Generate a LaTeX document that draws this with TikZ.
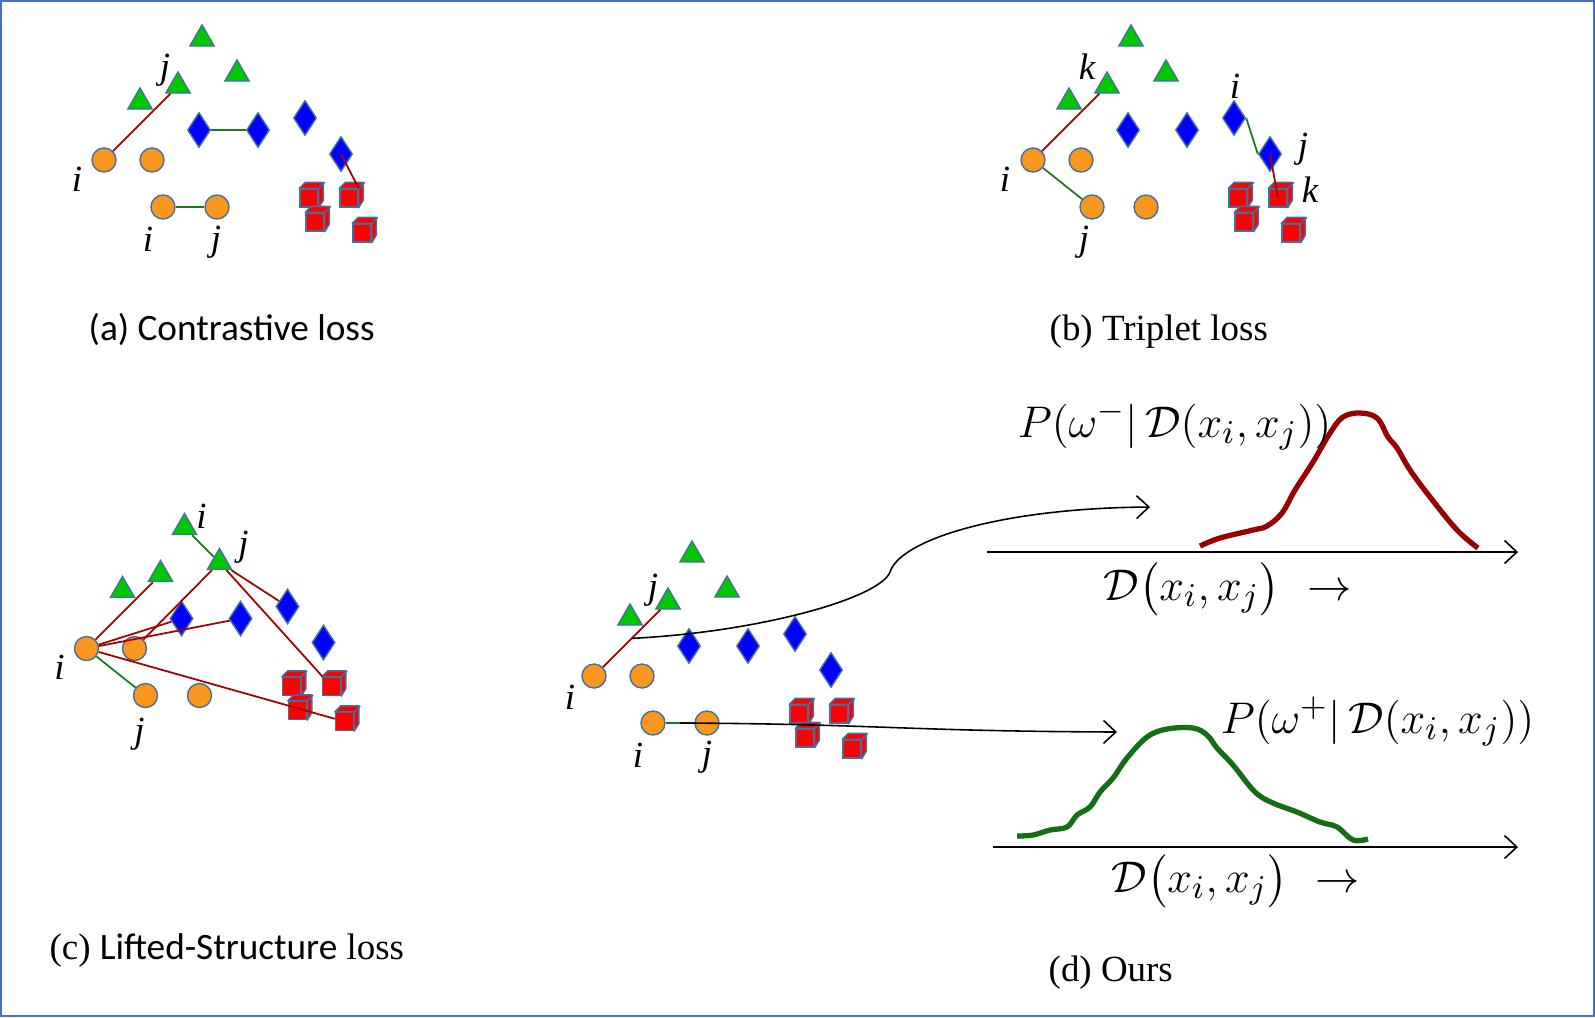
\documentclass[tikz,border=0pt]{standalone}
\usepackage{amsmath}
\usepackage{fontspec}
\usetikzlibrary{shapes.geometric, arrows.meta}
\newfontfamily\capsans{Carlito}
\newfontfamily\capserif{Liberation Serif}

\definecolor{olineblue}{RGB}{65,113,156}
\definecolor{trigreen}{RGB}{0,200,0}
\definecolor{dotorange}{RGB}{248,150,30}
\definecolor{negred}{RGB}{165,0,0}
\definecolor{posgreen}{RGB}{30,120,30}
\definecolor{curvered}{RGB}{153,0,0}
\definecolor{curvegreen}{RGB}{20,110,20}
\definecolor{frameblue}{RGB}{68,114,196}

\newcommand{\cubeat}[2]{%
  \node[cubefront] (#1) at (#2) {};
  \filldraw[cubeside] (#1.north west) -- ++(6,-6) -- ++(18,0) -- ++(0,18)
    -- (#1.south east) -- (#1.north east) -- cycle;
  \draw[cubeside] (#1.north east) -- ++(6,-6);
}

\newcommand{\cluster}{%
  \node[tri] (t1) at (202,39) {};
  \node[tri] (t2) at (237,74) {};
  \node[tri] (t3) at (178,86) {};
  \node[tri] (t4) at (140,102) {};
  \node[dia] (d1) at (199,130) {};
  \node[dia] (d2) at (258,130) {};
  \node[dia] (d3) at (305,118) {};
  \node[dia] (d4) at (341,154) {};
  \node[dot] (c1) at (104,160) {};
  \node[dot] (c2) at (152,160) {};
  \node[dot] (c3) at (163,207) {};
  \node[dot] (c4) at (217,207) {};
  \cubeat{q1}{309,198}
  \cubeat{q2}{349,198}
  \cubeat{q3}{315,222}
  \cubeat{q4}{362,233}
}

\begin{document}
\begin{tikzpicture}[
  x=0.01cm, y=-0.01cm,
  tri/.style={regular polygon, regular polygon sides=3, draw=olineblue, fill=trigreen, minimum size=0.28cm, inner sep=0pt},
  dia/.style={diamond, draw=olineblue, fill=blue, minimum width=0.23cm, minimum height=0.35cm, inner sep=0pt},
  dot/.style={circle, draw=olineblue, fill=dotorange, minimum size=0.24cm, inner sep=0pt},
  cubefront/.style={rectangle, draw=olineblue, fill=red, minimum size=0.18cm, inner sep=0pt},
  cubeside/.style={draw=olineblue, fill=red, line join=round},
  negline/.style={draw=negred, line width=0.5pt},
  posline/.style={draw=posgreen, line width=0.5pt},
  lbl/.style={font=\capserif\itshape\fontsize{10.5}{12}\selectfont, inner sep=0pt},
  sanscap/.style={font=\capsans\fontsize{10.6}{13}\selectfont, inner sep=0pt, anchor=base west},
  serifcap/.style={font=\capserif\fontsize{10.5}{12.5}\selectfont, inner sep=0pt, anchor=base west},
  formula/.style={font=\fontsize{13}{15.6}\selectfont, inner sep=0pt, anchor=base west, scale=1.05},
  link/.style={draw=black, line width=0.45pt, -{Straight Barb[length=3.5pt, width=6.5pt]}},
  axis/.style={draw=black, line width=0.45pt, -{Straight Barb[length=3.5pt, width=6.5pt]}},
  negcurve/.style={draw=curvered, line width=1.5pt},
  poscurve/.style={draw=curvegreen, line width=1.5pt}
]
  \fill[white] (0,0) rectangle (1595,1017);
  \useasboundingbox (0,0) rectangle (1595,1017);
  \draw[frameblue, line width=0.7pt] (1,1) rectangle (1594,1016);

  \begin{scope}[name prefix=a-]
    \cluster
    \draw[negline] (c1) -- (t3);
    \draw[posline] (d1) -- (d2);
    \draw[negline] (d4.center) -- (q2.north east);
    \draw[posline] (c3) -- (c4);
    \node[lbl] (lj) at (165,70) {j};
    \node[lbl] (li) at (77,179) {i};
    \node[lbl] (li2) at (148,239) {i};
    \node[lbl] (lj2) at (216,242) {j};
  \end{scope}

  \begin{scope}[shift={(929,0)}, name prefix=b-]
    \cluster
    \draw[negline] (c1) -- (t3);
    \draw[posline] (c1) -- (c3);
    \draw[posline] (d3.east) -- (d4.west);
    \draw[negline] (d4.center) -- (q2.center);
    \node[lbl] (lk) at (158,67) {k};
    \node[lbl] (li) at (306,86) {i};
    \node[lbl] (lj) at (374,149) {j};
    \node[lbl] (lk2) at (381,190) {k};
    \node[lbl] (li2) at (76,179) {i};
    \node[lbl] (lj2) at (155,242) {j};
  \end{scope}

  \begin{scope}[shift={(-17.5,488.5)}, name prefix=c-]
    \cluster
    \draw[posline] (t1) -- (t2);
    \draw[negline] (c1) -- (t3);
    \draw[negline] (c1) -- (d1);
    \draw[negline] (c1) -- (d2);
    \draw[negline] (c1) -- (q4);
    \draw[negline] (t2) -- (c2);
    \draw[negline] (t2) -- (d3);
    \draw[negline] (t2) -- (q2);
    \draw[posline] (c1) -- (c3);
    \node[lbl] (li) at (219,28) {i};
    \node[lbl] (lj) at (261,59) {j};
    \node[lbl] (li2) at (77,179) {i};
    \node[lbl] (lj2) at (157,246) {j};
  \end{scope}

  \begin{scope}[shift={(490,516)}, name prefix=d-]
    \cluster
    \draw[negline] (c1) -- coordinate (negmid) (t3);
    \draw[posline] (c3) -- coordinate (posmid) (c4);
    \node[lbl] (lj) at (163,74) {j};
    \node[lbl] (li) at (80,181) {i};
    \node[lbl] (li2) at (148,239) {i};
    \node[lbl] (lj2) at (217,241) {j};
  \end{scope}

  \coordinate (negtip) at (1150,507);
  \coordinate (postip) at (1117,732);
  \draw[link] (d-negmid) .. controls (760,632) and (880,598) .. (890,572)
    .. controls (900,540) and (1000,508) .. (negtip);
  \draw[link] (d-posmid) .. controls (880,724) and (900,731) .. (postip);

  \coordinate (negaxis) at (987,552);
  \coordinate (negaxisend) at (1518,552);
  \coordinate (posaxis) at (993,847);
  \coordinate (posaxisend) at (1518,847);
  \draw[axis] (negaxis) -- (negaxisend);
  \draw[axis] (posaxis) -- (posaxisend);

  \draw[negcurve] plot[smooth, tension=0.6] coordinates {(1200,546) (1220,538) (1253,530) (1267,526)
    (1282,513) (1295,490) (1313,462) (1330,433) (1343,417) (1360,413) (1377,418) (1388,437)
    (1397,448) (1410,470) (1430,497) (1457,530) (1478,548)};
  \draw[poscurve] plot[smooth, tension=0.6] coordinates {(1017,836) (1033,835) (1050,830) (1067,827)
    (1077,815) (1090,807) (1100,792) (1113,778) (1127,758) (1147,737) (1167,729) (1193,728)
    (1207,735) (1217,748) (1233,765) (1255,792) (1273,803) (1297,812) (1320,822) (1337,827)
    (1353,840) (1368,839)};

  \node[formula] (pneg) at (1017,437) {$P(\omega^{-}|\,\mathcal{D}(x_i, x_j))$};
  \node[formula] (dneg) at (1103,600) {$\mathcal{D}\bigl(x_i, x_j\bigr)\ \rightarrow$};
  \node[formula] (ppos) at (1220,733) {$P(\omega^{+}|\,\mathcal{D}(x_i, x_j))$};
  \node[formula] (dpos) at (1111,892) {$\mathcal{D}\bigl(x_i, x_j\bigr)\ \rightarrow$};

  \node[sanscap] (capa) at (88,340) {(a) Contrastive loss};
  \node[serifcap] (capb) at (1049,340) {(b) Triplet loss};
  \node[serifcap] (capc) at (49,959) {(c) {\capsans\fontsize{10.6}{13}\selectfont Lifted-Structure} loss};
  \node[serifcap] (capd) at (1048,981) {(d) Ours};
\end{tikzpicture}
\end{document}
